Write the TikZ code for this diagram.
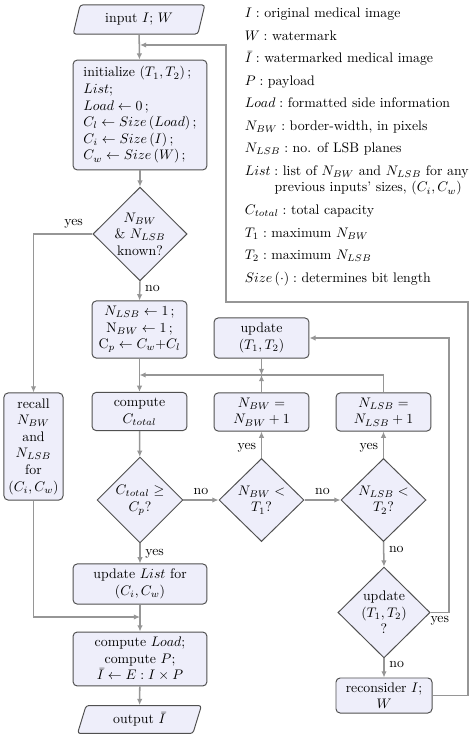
\documentclass[tikz,border=0pt]{standalone}
\usepackage{tikz}
\usetikzlibrary{shapes.geometric, arrows.meta}
\definecolor{boxfill}{RGB}{238,238,250}
\definecolor{boxline}{RGB}{80,80,80}
\definecolor{flowline}{RGB}{150,150,150}
\tikzstyle{process} = [draw=boxline, fill=boxfill, line width=0.7pt, rounded corners=3pt, align=center, inner sep=2pt]
\tikzstyle{decision} = [diamond, aspect=1, draw=boxline, fill=boxfill, line width=0.7pt, align=center, inner sep=0pt]
\tikzstyle{io} = [trapezium, trapezium left angle=78, trapezium right angle=102, trapezium stretches=true, draw=boxline, fill=boxfill, line width=0.7pt, rounded corners=2pt]
\tikzstyle{link} = [draw=flowline, line width=1.1pt]
\tikzstyle{flow} = [link, -{Latex[length=4.5pt,width=4pt]}]
\tikzstyle{lbl} = [text=black]

\begin{document}
\begin{tikzpicture}[x=0.0254cm, y=-0.0254cm]
            \useasboundingbox (0,0) rectangle (474,740);

            % main column
            \node[io, minimum width=3.35cm, minimum height=0.74cm] (in) at (139,19.5) {input $I$; $W$};
            \node[process, align=left, minimum width=3.40cm, minimum height=2.79cm] (init) at (140,115)
                {initialize $\left(T_1,T_2\right);$\\
                 $List$;\\
                 $Load\leftarrow 0\,;$\\
                 $C_l\leftarrow Size\left(Load\right);$\\
                 $C_i\leftarrow Size\left(I\right);$\\
                 $C_w\leftarrow Size\left(W\right);$};
            \node[decision, minimum width=2.39cm, minimum height=2.34cm] (known) at (140,234)
                {$N_{BW}$\\ \& $N_{LSB}$\\ known?};
            \node[process, minimum width=2.41cm, minimum height=1.45cm] (initN) at (139.5,329.5)
                {$N_{LSB}\leftarrow 1\,;$\\ N$_{BW}\leftarrow 1\,;$\\ C$_p\leftarrow C_w$+$C_l$};
            \node[process, minimum width=2.41cm, minimum height=0.97cm] (comp) at (139.5,411.5)
                {compute\\ $C_{total}$};
            \node[decision, minimum width=2.18cm, minimum height=2.18cm] (check) at (140,500)
                {$C_{total}\geq$\\ $C_p$?};
            \node[process, minimum width=3.40cm, minimum height=1.02cm] (updList) at (140,584)
                {update $List$ for\\ $\left(C_i,C_w\right)$};
            \node[process, minimum width=3.40cm, minimum height=1.37cm] (compLoad) at (140,659)
                {compute $Load$;\\ compute $P$;\\ $\bar{I}\leftarrow E: I\times P$};
            \node[io, minimum width=3.15cm, minimum height=0.71cm] (out) at (139.5,719.5) {output $\bar{I}$};

            % recall branch
            \node[process, minimum width=1.50cm, minimum height=2.72cm] (recall) at (33.5,446.5)
                {recall\\ $N_{BW}$\\ and\\ $N_{LSB}$\\ for\\ $\left(C_i,C_w\right)$};

            % search loop
            \node[decision, minimum width=2.16cm, minimum height=2.11cm] (nbwless) at (261.5,500)
                {$N_{BW}<$\\ $T_1$?};
            \node[decision, minimum width=2.16cm, minimum height=2.11cm] (nlsbless) at (383.5,500)
                {$N_{LSB}<$\\ $T_2$?};
            \node[process, minimum width=2.41cm, minimum height=0.97cm] (nbwinc) at (261.5,412)
                {$N_{BW}=$\\ $N_{BW}+1$};
            \node[process, minimum width=2.41cm, minimum height=0.97cm] (nlsbinc) at (383.5,412)
                {$N_{LSB}=$\\ $N_{LSB}+1$};
            \node[process, minimum width=2.41cm, minimum height=1.02cm] (updT) at (261.5,338)
                {update\\ $\left(T_1,T_2\right)$};
            \node[decision, minimum width=2.34cm, minimum height=2.31cm] (updQ) at (384,612.5)
                {update\\ $\left(T_1,T_2\right)$\\ ?};
            \node[process, minimum width=2.44cm, minimum height=0.89cm] (recon) at (384,695.5)
                {reconsider $I$;\\ $W$};

            % legend
            \node[anchor=north west, align=left] (legend) at (240,3)
                {$I:$ original medical image\\[4.3pt]
                 $W:$ watermark\\[4.3pt]
                 $\bar{I}:$ watermarked medical image\\[4.3pt]
                 $P:$ payload\\[4.3pt]
                 $Load:$ formatted side information\\[4.3pt]
                 $N_{BW}:$ border-width, in pixels\\[4.3pt]
                 $N_{LSB}:$ no. of LSB planes\\[4.3pt]
                 $List:$ list of $N_{BW}$ and $N_{LSB}$ for any\\
                 \hspace*{21.5pt}previous inputs' sizes, $\left(C_i,C_w\right)$\\[4.3pt]
                 $C_{total}:$ total capacity\\[4.3pt]
                 $T_1:$ maximum $N_{BW}$\\[4.3pt]
                 $T_2:$ maximum $N_{LSB}$\\[4.3pt]
                 $Size\left(\cdot\right):$ determines bit length};

            % junctions
            \coordinate (mainJ) at (139.5,375);
            \coordinate (sideJ) at (261.5,375);
            \coordinate (mergeJ) at (140,617);
            \coordinate (updR) at (449,612.5);
            \coordinate (loopA) at (468,302);
            \coordinate (loopB) at (226,45);
            \coordinate (loopIn) at (140,45);

            % connectors
            \draw[flow] (in) -- (init);
            \draw[flow] (init) -- (known);
            \draw[flow] (known.west) -| (recall.north)
                node[lbl, pos=0.16, above]{yes};
            \draw[flow] (known.south) -- (initN.north)
                node[lbl, pos=0.35, right]{no};
            \draw[flow] (initN) -- (comp);
            \draw[flow] (comp) -- (check);
            \draw[flow] (check.south) -- (updList.north)
                node[lbl, midway, right]{yes};
            \draw[flow] (updList) -- (compLoad);
            \draw[flow] (recall.south) |- (mergeJ);
            \draw[flow] (compLoad) -- (out);

            \draw[flow] (check.east) -- (nbwless.west)
                node[lbl, midway, above]{no};
            \draw[flow] (nbwless.east) -- (nlsbless.west)
                node[lbl, midway, above]{no};
            \draw[flow] (nbwless.north) -- (nbwinc.south)
                node[lbl, pos=0.4, left]{yes};
            \draw[flow] (nlsbless.north) -- (nlsbinc.south)
                node[lbl, pos=0.4, left]{yes};
            \draw[flow] (nbwinc.north) -- (sideJ);
            \draw[flow] (updT.south) -- (sideJ);
            \draw[flow] (nlsbinc.north) |- (mainJ);

            \draw[flow] (nlsbless.south) -- (updQ.north)
                node[lbl, pos=0.3, right]{no};
            \draw[flow] (updQ.east) -- (updR)
                node[lbl, midway, below=-1pt]{yes} |- (updT.east);
            \draw[flow] (updQ.south) -- (recon.north)
                node[lbl, pos=0.3, right]{no};
            \draw[flow] (recon.east) -| (loopA) -| (loopB) -- (loopIn);
        \end{tikzpicture}
\end{document}
